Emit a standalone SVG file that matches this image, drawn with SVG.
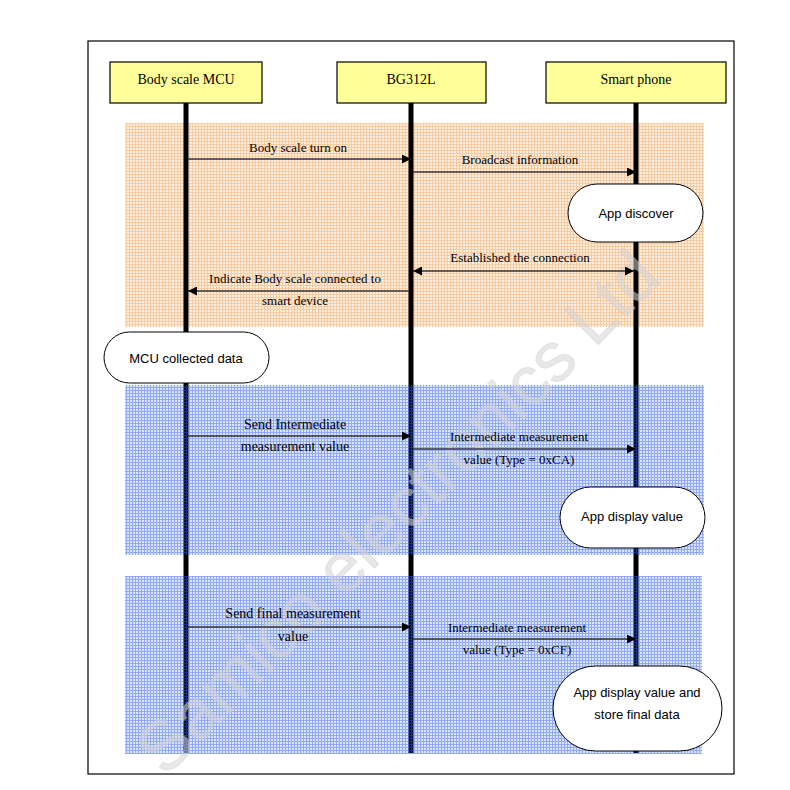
<svg xmlns="http://www.w3.org/2000/svg" width="790" height="790" viewBox="0 0 790 790">
<defs>
<pattern id="orangeGrid" width="3" height="3" patternUnits="userSpaceOnUse">
<rect width="3" height="3" fill="#fdeedf"/>
<path d="M0 0.5H3M0.5 0V3" stroke="#f8caa0" stroke-width="1"/>
</pattern>
<pattern id="blueGrid" width="3" height="3" patternUnits="userSpaceOnUse">
<rect width="3" height="3" fill="rgb(40,90,235)" fill-opacity="0.17"/>
<path d="M0 0.5H3M0.5 1V3" stroke="rgb(40,90,235)" stroke-opacity="0.42" stroke-width="1"/>
</pattern>
<marker id="arrow" viewBox="0 0 10 10" refX="10" refY="5" markerWidth="9" markerHeight="9" markerUnits="userSpaceOnUse" orient="auto-start-reverse">
<path d="M0 0L10 5L0 10Z" fill="#000"/>
</marker>
</defs>
<style>
.hdr{fill:#ffff99;stroke:#000;stroke-width:1.2}
.hdrt{font-family:"Liberation Serif","Times New Roman",serif;font-size:14px;fill:#000;text-anchor:middle}
.life{stroke:#000;stroke-width:5}
.msg{stroke:#333;stroke-width:1.3;fill:none}
.lbl{font-family:"Liberation Serif","Times New Roman",serif;font-size:13px;fill:#000;text-anchor:middle}
.lbl2{font-family:"Liberation Serif","Times New Roman",serif;font-size:14px;fill:#000;text-anchor:middle}
.term{fill:#fff;stroke:#000;stroke-width:1}
.termt{font-family:"Liberation Sans",Arial,sans-serif;font-size:13px;fill:#000;text-anchor:middle}
.wm{font-family:"Liberation Sans",Arial,sans-serif;font-size:70px;fill:#d4d4d4;fill-opacity:0.55;stroke:#c8c8c8;stroke-opacity:0.35;stroke-width:1}
</style>
<rect x="0" y="0" width="790" height="790" fill="#fff"/>
<rect x="88" y="41" width="646" height="733" fill="#fff" stroke="#000" stroke-width="1.2"/>
<rect id="region-connect" x="125" y="123" width="579" height="204" fill="url(#orangeGrid)"/>
<g id="lifelines">
<line class="life" x1="186" y1="103" x2="186" y2="753"/>
<line class="life" x1="411" y1="103" x2="411" y2="753"/>
<line class="life" x1="636" y1="103" x2="636" y2="753"/>
</g>
<rect id="region-intermediate" x="125" y="385" width="579" height="170" fill="url(#blueGrid)"/>
<rect id="region-final" x="125" y="576" width="577" height="178" fill="url(#blueGrid)"/>
<text class="wm" transform="translate(165,778) rotate(-45)">Samico electronics Ltd</text>
<g id="node-mcu">
<rect class="hdr" x="110" y="62" width="152" height="41"/>
<text class="hdrt" x="186" y="84">Body scale MCU</text>
</g>
<g id="node-bg312l">
<rect class="hdr" x="337" y="62" width="149" height="41"/>
<text class="hdrt" x="411" y="84">BG312L</text>
</g>
<g id="node-phone">
<rect class="hdr" x="546" y="62" width="180" height="41"/>
<text class="hdrt" x="636" y="84">Smart phone</text>
</g>
<g id="connectors">
<line class="msg" x1="188" y1="159" x2="411" y2="159" marker-end="url(#arrow)"/>
<line class="msg" x1="413" y1="172" x2="636" y2="172" marker-end="url(#arrow)"/>
<line class="msg" x1="413" y1="271" x2="634" y2="271" marker-start="url(#arrow)" marker-end="url(#arrow)"/>
<line class="msg" x1="409" y1="291" x2="188" y2="291" marker-end="url(#arrow)"/>
<line class="msg" x1="188" y1="436" x2="411" y2="436" marker-end="url(#arrow)"/>
<line class="msg" x1="413" y1="449" x2="636" y2="449" marker-end="url(#arrow)"/>
<line class="msg" x1="188" y1="627" x2="411" y2="627" marker-end="url(#arrow)"/>
<line class="msg" x1="413" y1="639" x2="636" y2="639" marker-end="url(#arrow)"/>
</g>
<g id="labels">
<text class="lbl" x="298" y="152">Body scale turn on</text>
<text class="lbl" x="520" y="164">Broadcast information</text>
<text class="lbl" x="520" y="262">Established the connection</text>
<text class="lbl" x="295" y="283">Indicate Body scale connected to</text>
<text class="lbl" x="295" y="305">smart device</text>
<text class="lbl2" x="295" y="429">Send Intermediate</text>
<text class="lbl2" x="295" y="451">measurement value</text>
<text class="lbl" x="519" y="441">Intermediate measurement</text>
<text class="lbl" x="519" y="464">value (Type = 0xCA)</text>
<text class="lbl2" x="293" y="618">Send final measurement</text>
<text class="lbl2" x="293" y="641">value</text>
<text class="lbl" x="517" y="632">Intermediate measurement</text>
<text class="lbl" x="517" y="654">value (Type = 0xCF)</text>
</g>
<g id="node-app-discover">
<rect class="term" x="568" y="184" width="135" height="58" rx="29" ry="29"/>
<text class="termt" x="636" y="218">App discover</text>
</g>
<g id="node-mcu-collected">
<rect class="term" x="104" y="332" width="165" height="51" rx="25.5" ry="25.5"/>
<text class="termt" x="186" y="363">MCU collected data</text>
</g>
<g id="node-app-display">
<rect class="term" x="560" y="487" width="145" height="61" rx="30.5" ry="30.5"/>
<text class="termt" x="632" y="521">App display value</text>
</g>
<g id="node-app-store">
<rect class="term" x="553" y="666" width="169" height="85" rx="42.5" ry="42.5"/>
<text class="termt" x="637" y="697">App display value and</text>
<text class="termt" x="637" y="719">store final data</text>
</g>
</svg>
